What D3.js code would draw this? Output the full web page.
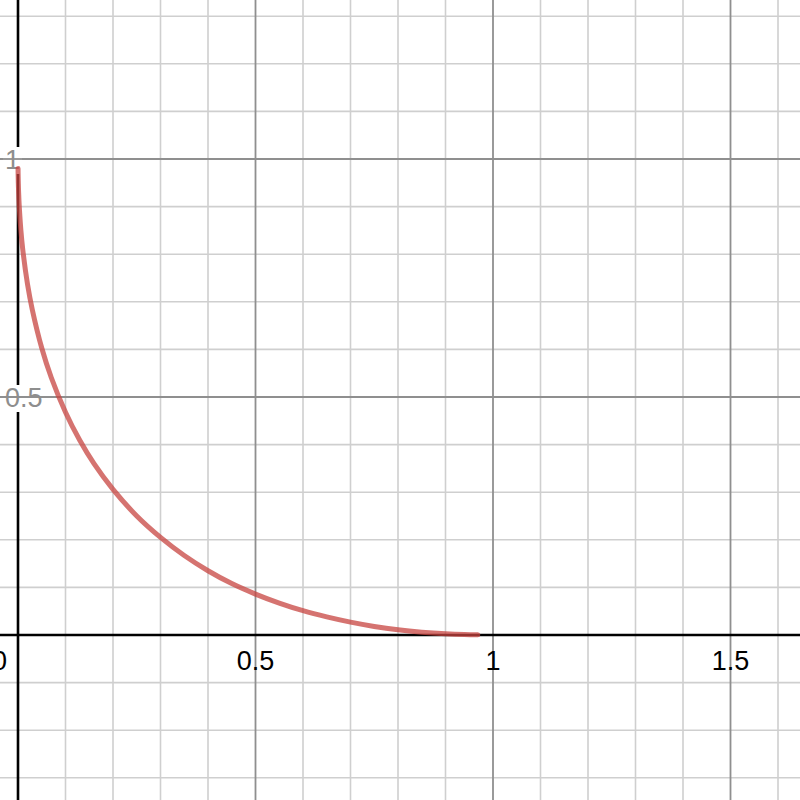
<!DOCTYPE html>
<html>
<head>
<meta charset="utf-8">
<script src="https://cdn.jsdelivr.net/npm/d3@7"></script>
<style>
  html, body { margin: 0; padding: 0; background: #fff; }
  svg { display: block; }
</style>
</head>
<body>
<svg id="chart" width="800" height="800"></svg>
<script>
// ---- data ----
const curveX = [0.0001, 0.0003, 0.001, 0.002, 0.003, 0.006, 0.01, 0.02, 0.03, 0.05, 0.07, 0.1, 0.13, 0.16, 0.2, 0.25, 0.3, 0.35, 0.4, 0.45, 0.5, 0.55, 0.6, 0.65, 0.7, 0.75, 0.8, 0.85, 0.9, 0.94, 0.968];
const curveY = [0.980, 0.966, 0.938, 0.913, 0.894, 0.851, 0.810, 0.737, 0.684, 0.603, 0.541, 0.468, 0.409, 0.360, 0.306, 0.250, 0.205, 0.167, 0.135, 0.108, 0.086, 0.067, 0.051, 0.038, 0.027, 0.018, 0.011, 0.006, 0.0026, 0.0009, 0.0003];
const xMinorTicks = [0.1, 0.2, 0.3, 0.4, 0.6, 0.7, 0.8, 0.9, 1.1, 1.2, 1.3, 1.4, 1.6];
const yMinorTicks = [-0.3, -0.2, -0.1, 0.1, 0.2, 0.3, 0.4, 0.6, 0.7, 0.8, 0.9, 1.1, 1.2, 1.3];
const xMajorTicks = [0.5, 1, 1.5];
const yMajorTicks = [0.5, 1];
const xTickLabels = ["0.5", "1", "1.5"];
const yTickLabels = ["0.5", "1"];
const originLabel = "0";

// ---- layout ----
const W = 800, H = 800;
const x = d3.scaleLinear().domain([-18 / 475, 782 / 475]).range([0, W]);
const y = d3.scaleLinear().domain([-165 / 476, 635 / 476]).range([H, 0]);

const svg = d3.select("#chart");
svg.append("rect").attr("width", W).attr("height", H).attr("fill", "#fff");

const grid = svg.append("g");
// minor grid
grid.selectAll(".vmin").data(xMinorTicks).enter().append("line")
  .attr("x1", d => x(d)).attr("x2", d => x(d)).attr("y1", 0).attr("y2", H)
  .attr("stroke", "#cfcfcf").attr("stroke-width", 1.6);
grid.selectAll(".hmin").data(yMinorTicks).enter().append("line")
  .attr("y1", d => y(d)).attr("y2", d => y(d)).attr("x1", 0).attr("x2", W)
  .attr("stroke", "#cfcfcf").attr("stroke-width", 1.6);
// major grid
grid.selectAll(".vmaj").data(xMajorTicks).enter().append("line")
  .attr("x1", d => x(d)).attr("x2", d => x(d)).attr("y1", 0).attr("y2", H)
  .attr("stroke", "#8f8f8f").attr("stroke-width", 1.8);
grid.selectAll(".hmaj").data(yMajorTicks).enter().append("line")
  .attr("y1", d => y(d)).attr("y2", d => y(d)).attr("x1", 0).attr("x2", W)
  .attr("stroke", "#8f8f8f").attr("stroke-width", 1.8);

// axes
svg.append("line").attr("x1", 0).attr("x2", W).attr("y1", y(0)).attr("y2", y(0))
  .attr("stroke", "#000").attr("stroke-width", 2.6);
svg.append("line").attr("x1", x(0)).attr("x2", x(0)).attr("y1", 0).attr("y2", H)
  .attr("stroke", "#000").attr("stroke-width", 2.6);

const font = "'Liberation Sans', Arial, sans-serif";

// y labels with white background box
const yLab = svg.append("g");
yMajorTicks.forEach((v, i) => {
  const t = yLab.append("text")
    .attr("x", 5).attr("y", y(v) + 10)
    .attr("font-family", font).attr("font-size", 27)
    .attr("fill", "#8e8e8e")
    .text(yTickLabels[i]);
  const bb = t.node().getBBox();
  yLab.insert("rect", "text")
    .attr("x", bb.x - 2).attr("y", bb.y + 2).attr("width", bb.width + 4).attr("height", bb.height - 3)
    .attr("fill", "#fff");
  yLab.insert("line", "text")
    .attr("x1", 0).attr("x2", bb.x + bb.width + 4).attr("y1", y(v)).attr("y2", y(v))
    .attr("stroke", "#8f8f8f").attr("stroke-width", 1.8);
});

// x labels
svg.selectAll(".xl").data(xMajorTicks).enter().append("text")
  .attr("x", d => x(d)).attr("y", y(0) + 35)
  .attr("text-anchor", "middle")
  .attr("font-family", font).attr("font-size", 27)
  .attr("fill", "#000")
  .text((d, i) => xTickLabels[i]);
svg.append("text")
  .attr("x", x(0) - 11).attr("y", y(0) + 35)
  .attr("text-anchor", "end")
  .attr("font-family", font).attr("font-size", 27)
  .attr("fill", "#000")
  .text(originLabel);

// curve
const pts = curveX.map((v, i) => [v, curveY[i]]);
const line = d3.line().x(d => x(d[0])).y(d => y(d[1])).curve(d3.curveCatmullRom.alpha(0.5));
svg.append("path").datum(pts)
  .attr("d", line)
  .attr("fill", "none")
  .attr("stroke", "#c74440")
  .attr("stroke-opacity", 0.75)
  .attr("stroke-width", 5)
  .attr("stroke-linecap", "round")
  .attr("stroke-linejoin", "round");
</script>
</body>
</html>
